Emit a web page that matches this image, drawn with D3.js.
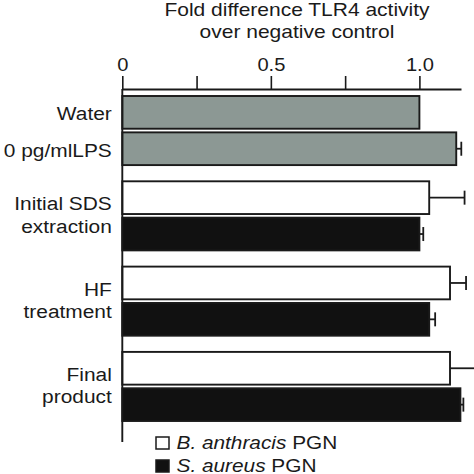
<!DOCTYPE html>
<html>
<head>
<meta charset="utf-8">
<script src="https://cdn.jsdelivr.net/npm/d3@7"></script>
<style>
  body { margin: 0; background: #fff; }
  text { font-family: "Liberation Sans", Arial, sans-serif; fill: #1a1a1a; }
</style>
</head>
<body>
<div id="chart"></div>
<script>
var svgWidth = 474;
var svgHeight = 474;

// data
var groupNames = ["Controls", "Initial SDS extraction", "HF treatment", "Final product"];
var groupLabels = [[], ["Initial SDS", "extraction"], ["HF", "treatment"], ["Final", "product"]];
var controlNames = ["Water", "0 pg/mlLPS"];
var controlValues = [1.0, 1.124];
var controlErrors = [0, 0.017];
var seriesNames = ["B. anthracis PGN", "S. aureus PGN"];
var anthracisValues = [1.033, 1.103, 1.103];
var anthracisErrors = [0.119, 0.054, 0.1];
var aureusValues = [1.0, 1.033, 1.138];
var aureusErrors = [0.013, 0.02, 0.01];
var tickValues = [0, 0.25, 0.5, 0.75, 1.0];
var tickLabels = ["0", "", "0.5", "", "1.0"];

var grey = "#8c9894";
var seriesFill = ["#ffffff", "#111111"];
var ink = "#1a1a1a";

var svg = d3.select("#chart")
  .append("svg")
  .attr("width", svgWidth)
  .attr("height", svgHeight);

var x = d3.scaleLinear()
  .domain([0, 1.14])
  .range([122.3, 461]);

var y = d3.scaleBand()
  .domain(groupNames)
  .range([96, 421])
  .paddingInner(0.19);

var ySub = d3.scaleBand()
  .domain([0, 1])
  .range([0, y.bandwidth()])
  .paddingInner(0.1);

// flatten into bars
var bars = [];
controlValues.forEach(function(v, i) {
  bars.push({ group: groupNames[0], sub: i, value: v, err: controlErrors[i], fill: grey });
});
groupNames.slice(1).forEach(function(g, i) {
  bars.push({ group: g, sub: 0, value: anthracisValues[i], err: anthracisErrors[i], fill: seriesFill[0] });
  bars.push({ group: g, sub: 1, value: aureusValues[i], err: aureusErrors[i], fill: seriesFill[1] });
});

function barTop(d) { return y(d.group) + ySub(d.sub); }
function barMid(d) { return barTop(d) + ySub.bandwidth() / 2; }

var axisY = 89;

// title (the figure's type is a little wide, hence the x stretch)
svg.append("text")
  .attr("transform", "translate(297, 16) scale(1.2,1)")
  .attr("text-anchor", "middle")
  .style("font-size", "17.5px")
  .text("Fold difference TLR4 activity");
svg.append("text")
  .attr("transform", "translate(297, 38) scale(1.2,1)")
  .attr("text-anchor", "middle")
  .style("font-size", "17.5px")
  .text("over negative control");

// error bars (drawn first so bars sit on top)
var errG = svg.append("g");
errG.selectAll("line.whisker")
  .data(bars.filter(d => d.err > 0))
  .enter()
  .append("line")
  .attr("class", "whisker")
  .attr("x1", d => x(d.value))
  .attr("x2", d => x(d.value + d.err))
  .attr("y1", barMid)
  .attr("y2", barMid)
  .attr("stroke", ink)
  .attr("stroke-width", 1.8);
errG.selectAll("line.cap")
  .data(bars.filter(d => d.err > 0))
  .enter()
  .append("line")
  .attr("class", "cap")
  .attr("x1", d => x(d.value + d.err))
  .attr("x2", d => x(d.value + d.err))
  .attr("y1", d => barMid(d) - 7)
  .attr("y2", d => barMid(d) + 7)
  .attr("stroke", ink)
  .attr("stroke-width", 1.8);

// bars
svg.selectAll("rect.bar")
  .data(bars)
  .enter()
  .append("rect")
  .attr("class", "bar")
  .attr("x", x(0))
  .attr("y", barTop)
  .attr("width", d => x(d.value) - x(0))
  .attr("height", ySub.bandwidth())
  .attr("fill", d => d.fill)
  .attr("stroke", ink)
  .attr("stroke-width", 1.9);

// top axis
var topAxis = d3.axisTop(x)
  .tickValues(tickValues)
  .tickFormat((d, i) => tickLabels[i])
  .tickSize(13)
  .tickPadding(5)
  .tickSizeOuter(0);

var xAxis = svg.append("g")
  .attr("transform", `translate(0, ${axisY})`)
  .call(topAxis);
xAxis.select(".domain").attr("stroke", ink).attr("stroke-width", 1.9);
xAxis.selectAll(".tick line").attr("stroke", ink).attr("stroke-width", 1.6);
xAxis.selectAll(".tick text")
  .attr("transform", "scale(1.15,1)")
  .style("font-size", "17.5px")
  .attr("fill", ink);

// left axis line (no ticks)
svg.append("line")
  .attr("x1", x(0))
  .attr("x2", x(0))
  .attr("y1", axisY)
  .attr("y2", y.range()[1] + 21)
  .attr("stroke", ink)
  .attr("stroke-width", 1.9);

// control row labels
svg.selectAll("text.ctrl")
  .data(controlNames)
  .enter()
  .append("text")
  .attr("class", "ctrl")
  .attr("transform", (d, i) => `translate(${x(0) - 10.5}, ${y(groupNames[0]) + ySub(i) + ySub.bandwidth() / 2 + 8}) scale(1.1,1)`)
  .attr("text-anchor", "end")
  .style("font-size", "19px")
  .text(d => d);

// group labels (two lines)
groupNames.slice(1).forEach(function(g, i) {
  var lines = groupLabels[i + 1];
  var cy = y(g) + y.bandwidth() / 2;
  lines.forEach(function(t, j) {
    svg.append("text")
      .attr("transform", `translate(${x(0) - 10.5}, ${cy - 5.5 + j * 22.3}) scale(1.1,1)`)
      .attr("text-anchor", "end")
      .style("font-size", "19px")
      .text(t);
  });
});

// legend
var legend = svg.selectAll("g.legend")
  .data(seriesNames)
  .enter()
  .append("g")
  .attr("class", "legend")
  .attr("transform", (d, i) => `translate(156, ${437 + i * 23})`);
legend.append("rect")
  .attr("width", 13)
  .attr("height", 12)
  .attr("fill", (d, i) => seriesFill[i])
  .attr("stroke", ink)
  .attr("stroke-width", 1.5);
var legText = legend.append("text")
  .attr("transform", "translate(20.5, 12) scale(1.19,1)")
  .style("font-size", "17.5px");
legText.append("tspan")
  .style("font-style", "italic")
  .text(d => d.replace(" PGN", ""));
legText.append("tspan")
  .text(" PGN");
</script>
</body>
</html>
